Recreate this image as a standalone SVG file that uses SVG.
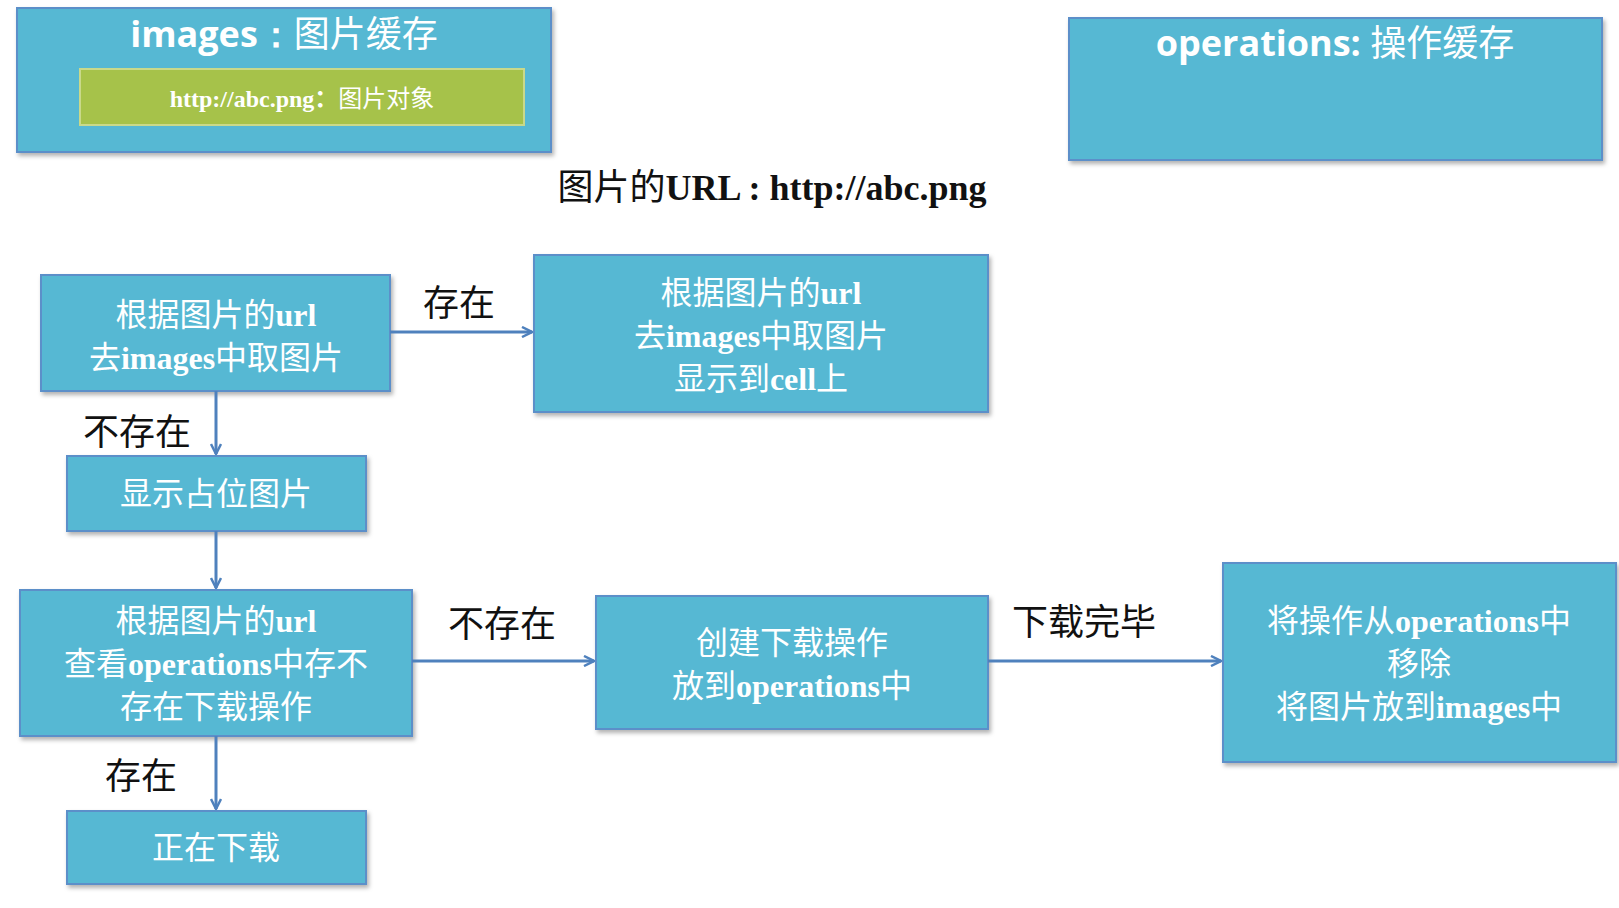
<svg xmlns="http://www.w3.org/2000/svg" width="1619" height="908" viewBox="0 0 1619 908">
<defs>
<filter id="sh" x="-5%" y="-5%" width="115%" height="120%"><feDropShadow dx="2" dy="3" stdDeviation="2" flood-color="#000" flood-opacity="0.3"/></filter>
<marker id="ar" viewBox="0 0 12 12" refX="11" refY="6" markerWidth="12" markerHeight="12" markerUnits="userSpaceOnUse" orient="auto"><path d="M1,1 L11,6 L1,11" fill="none" stroke="#4f81bd" stroke-width="2.5"/></marker>
</defs>
<style>
.b{fill:#57b8d3;stroke:#5c8fc9;stroke-width:2;filter:url(#sh)}
.t{fill:#fff;font-family:"Liberation Serif","Noto Sans CJK SC",serif;font-size:32px;text-anchor:middle}
.l{fill:#111;font-family:"Noto Sans CJK SC",sans-serif;font-size:36px;text-anchor:middle}
.e{font-weight:bold}
.c line{stroke:#4f81bd;stroke-width:3;marker-end:url(#ar)}
</style>
<rect width="1619" height="908" fill="#fff"/>
<g id="images"><rect class="b" x="17" y="8" width="534" height="144"/>
<text class="t" x="284" y="47" style="font-size:36px"><tspan class="e" font-family="Open Sans">images：</tspan>图片缓存</text>
<rect x="80" y="69" width="444" height="56" fill="#a6c24a" stroke="#c9d98a" stroke-width="2"/>
<text class="t" x="302" y="107" style="font-size:24px"><tspan class="e">http://abc.png：</tspan>图片对象</text></g>
<g id="operations"><rect class="b" x="1069" y="18" width="533" height="142"/>
<text class="t" x="1335" y="56" style="font-size:36px"><tspan class="e" font-family="Open Sans">operations: </tspan>操作缓存</text></g>
<text class="l" x="772" y="200" style="font-size:36px">图片的<tspan class="e" font-family="Liberation Serif">URL : http://abc.png</tspan></text>
<g id="A"><rect class="b" x="41" y="275" width="349" height="116"/>
<text class="t" x="216" y="326">根据图片的<tspan class="e">url</tspan></text><text class="t" x="216" y="369">去<tspan class="e">images</tspan>中取图片</text></g>
<g id="B"><rect class="b" x="534" y="255" width="454" height="157"/>
<text class="t" x="761" y="304">根据图片的<tspan class="e">url</tspan></text><text class="t" x="761" y="347">去<tspan class="e">images</tspan>中取图片</text><text class="t" x="761" y="390">显示到<tspan class="e">cell</tspan>上</text></g>
<g id="C"><rect class="b" x="67" y="456" width="299" height="75"/>
<text class="t" x="216" y="505">显示占位图片</text></g>
<g id="D"><rect class="b" x="20" y="590" width="392" height="146"/>
<text class="t" x="216" y="632">根据图片的<tspan class="e">url</tspan></text><text class="t" x="216" y="675">查看<tspan class="e">operations</tspan>中存不</text><text class="t" x="216" y="718">存在下载操作</text></g>
<g id="E"><rect class="b" x="596" y="596" width="392" height="133"/>
<text class="t" x="792" y="654">创建下载操作</text><text class="t" x="792" y="697">放到<tspan class="e">operations</tspan>中</text></g>
<g id="F"><rect class="b" x="1223" y="563" width="393" height="199"/>
<text class="t" x="1419" y="632">将操作从<tspan class="e">operations</tspan>中</text><text class="t" x="1419" y="675">移除</text><text class="t" x="1419" y="718">将图片放到<tspan class="e">images</tspan>中</text></g>
<g id="G"><rect class="b" x="67" y="811" width="299" height="73"/>
<text class="t" x="216" y="859">正在下载</text></g>
<g class="c">
<line x1="390" y1="332" x2="532" y2="332"/>
<line x1="216" y1="391" x2="216" y2="454"/>
<line x1="216" y1="531" x2="216" y2="588"/>
<line x1="412" y1="661" x2="594" y2="661"/>
<line x1="988" y1="661" x2="1221" y2="661"/>
<line x1="216" y1="736" x2="216" y2="809"/>
</g>
<text class="l" x="459" y="316">存在</text>
<text class="l" x="137" y="445">不存在</text>
<text class="l" x="502" y="637">不存在</text>
<text class="l" x="1084" y="635">下载完毕</text>
<text class="l" x="141" y="789">存在</text>
</svg>
